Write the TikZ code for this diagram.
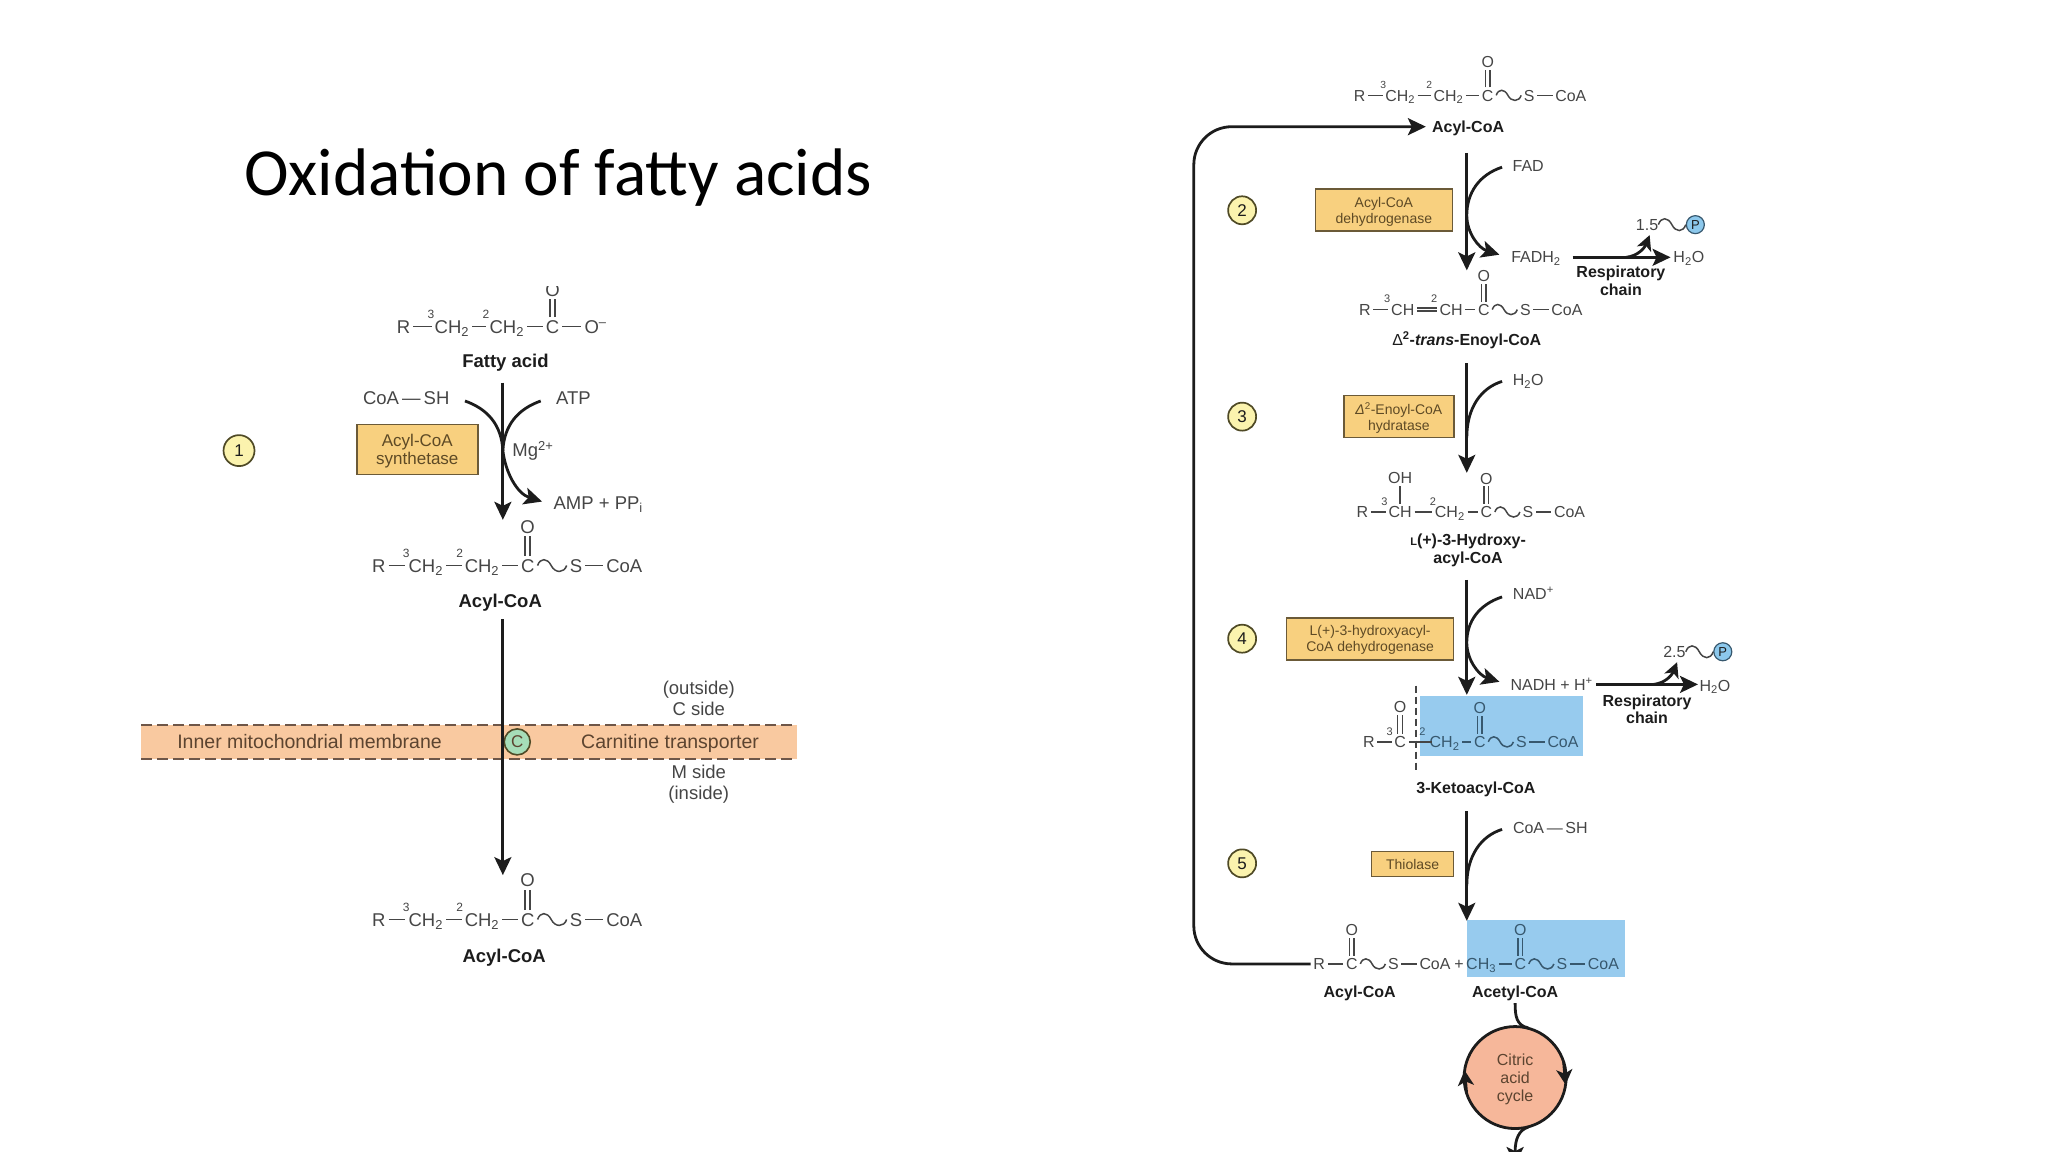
\documentclass[tikz,border=0pt]{standalone}
\usepackage{fontspec}
\setmainfont{Liberation Sans}
\newfontfamily\slidefont{Carlito}
\usetikzlibrary{arrows.meta}

\definecolor{inkc}{HTML}{1C1C1C}
\definecolor{chemc}{HTML}{454545}
\definecolor{blueinkc}{HTML}{37586E}
\definecolor{boxf}{HTML}{F8D07F}
\definecolor{boxd}{HTML}{6B5A38}
\definecolor{boxt}{HTML}{5E4A25}
\definecolor{stepf}{HTML}{FBF3AE}
\definecolor{stepd}{HTML}{4F4A26}
\definecolor{bandf}{HTML}{F9C9A0}
\definecolor{bandd}{HTML}{6E5648}
\definecolor{bandt}{HTML}{5C4430}
\definecolor{greenf}{HTML}{A6DDB8}
\definecolor{bluef}{HTML}{97CBEE}
\definecolor{pf}{HTML}{8CC8EC}
\definecolor{cyclef}{HTML}{F6B79A}

\newcommand{\wavy}[3]{\draw[bond] (#1) .. controls +(2,-6) and +(-3,-6) .. (#2) .. controls +(3,6) and +(-2,6) .. (#3);}

\tikzset{
  chem/.style={font=\fontsize{18.5}{21}\selectfont,text=chemc,inner xsep=3pt,inner ysep=2.5pt,text height=13.3pt,text depth=0pt},
  chems/.style={font=\fontsize{16}{18}\selectfont,text=chemc,inner xsep=2.6pt,inner ysep=2.2pt,text height=11.5pt,text depth=0pt},
  num/.style={font=\fontsize{12}{12}\selectfont,text=chemc,inner sep=0pt},
  nums/.style={font=\fontsize{11}{11}\selectfont,text=chemc,inner sep=0pt},
  bond/.style={draw=chemc,line width=1.5pt},
  lab/.style={font=\bfseries\fontsize{18.5}{21}\selectfont,text=inkc,align=center,inner sep=0pt,text depth=0pt},
  labs/.style={font=\bfseries\fontsize{16}{17.5}\selectfont,text=inkc,align=center,inner sep=0pt,text depth=0pt},
  txt/.style={font=\fontsize{18.5}{21}\selectfont,text=chemc,align=center,inner sep=0pt,text depth=0pt},
  txts/.style={font=\fontsize{16}{18}\selectfont,text=chemc,align=center,inner sep=0pt,text depth=0pt},
  enz/.style={draw=boxd,fill=boxf,line width=1.6pt,text=boxt,align=center,inner sep=0pt,text depth=0pt,font=\fontsize{14}{16}\selectfont},
  stepno/.style={circle,draw=stepd,fill=stepf,line width=1.7pt,text=inkc,inner sep=0pt,minimum size=28pt,font=\fontsize{17}{17}\selectfont},
  pho/.style={circle,draw=blueinkc,fill=pf,line width=1.2pt,text=inkc,inner sep=0pt,minimum size=18pt,font=\fontsize{13}{13}\selectfont},
  band/.style={text=bandt,inner sep=0pt,font=\fontsize{19.5}{21}\selectfont,text depth=0pt},
  flow/.style={draw=inkc,line width=2.8pt},
  thio/.pic={
    \node[chem] (-c) at (0,0) {C};
    \node[chem] (-o) at (0,-30) {O};
    \node[chem] (-s) at (37,0) {S};
    \node[chem] (-coa) at (74,0) {CoA};
    \coordinate (-m) at (18,0);
    \draw[bond] ([xshift=-2.5pt]-c.north) -- ([xshift=-2.5pt]-o.south);
    \draw[bond] ([xshift=2.5pt]-c.north) -- ([xshift=2.5pt]-o.south);
    \wavy{-c.east}{-m}{-s.west}
    \draw[bond] (-s) -- (-coa);
  },
  acyl/.pic={
    \pic (-t) at (0,0) {thio};
    \node[chem] (-r) at (-114,0) {R};
    \node[chem] (-ca) at (-78,0) {CH\textsubscript{2}};
    \node[chem] (-cb) at (-35,0) {CH\textsubscript{2}};
    \node[num] (-n3) at (-93,-9) {3};
    \node[num] (-n2) at (-52,-9) {2};
    \draw[bond] (-r) -- (-ca);
    \draw[bond] (-ca) -- (-cb);
    \draw[bond] (-cb) -- (-t-c);
  },
}

\begin{document}
\begin{tikzpicture}[x=1.3061pt,y=-1.3061pt,>={Stealth[length=18pt,width=17pt,inset=4pt]}]
\useasboundingbox (0,0) rectangle (1568,882);

% backgrounds
\fill[bandf] (108,555) rectangle (610,581);
\draw[draw=bandd,line width=2pt,dash pattern=on 11pt off 5pt] (108,555) -- (610,555);
\draw[draw=bandd,line width=2pt,dash pattern=on 11pt off 5pt] (108,581) -- (610,581);
\fill[bluef] (1087,533) rectangle (1212,579);
\fill[bluef] (1123,704) rectangle (1244,748);

\node[font=\slidefont\fontsize{67.3}{70}\selectfont,text=black,inner sep=0pt] (title) at (427.5,136) {Oxidation of fatty acids};

% left column, nodes
\begin{scope}
    \node[chem] (fr) at (309,250) {R};
    \node[chem] (fa) at (346,250) {CH\textsubscript{2}};
    \node[chem] (fb) at (388,250) {CH\textsubscript{2}};
    \node[chem] (fc) at (423,250) {C};
    \node[chem] (fo) at (423,222) {O};
    \node[chem] (fm) at (456,250) {O\textsuperscript{–}};
    \node[num] (f3) at (330,241) {3};
    \node[num] (f2) at (372,241) {2};
    \node[lab] (fatty) at (387,276) {Fatty acid};
    \node[txt] (coash) at (311,305) {CoA\,—\,SH};
    \node[txt] (atp) at (439,305) {ATP};
    \node[txt] (mg) at (408,344) {Mg\textsuperscript{2+}};
    \node[txt] (amp) at (458,385) {AMP + PP\textsubscript{i}};
    \node[enz,minimum width=121pt,minimum height=50pt,font=\fontsize{17}{18.5}\selectfont] (synth) at (319.5,344) {Acyl-CoA\\synthetase};
    \node[stepno,minimum size=31pt] (s1) at (183,345) {1};
    \pic (a1) at (404,433) {acyl};
    \node[lab] (acyl1) at (383,460) {Acyl-CoA};
    \node[band] (inner) at (237,568) {Inner mitochondrial membrane};
    \node[band] (carn) at (513,568) {Carnitine transporter};
    \node[circle,draw=stepd,fill=greenf,line width=1.6pt,text=bandt,inner sep=0pt,minimum size=26pt,font=\fontsize{17}{17}\selectfont] (car) at (396,568) {C};
    \node[txt] (cside) at (535,535) {(outside)\\C side};
    \node[txt] (mside) at (535,599) {M side\\(inside)};
    \pic (a2) at (404,704) {acyl};
    \node[lab] (acyl2) at (386,732) {Acyl-CoA};
\end{scope}
\fill[white] (410,208) rectangle (436,219);
\begin{scope}
    \draw[bond] (fr) -- (fa);
    \draw[bond] (fa) -- (fb);
    \draw[bond] (fb) -- (fc);
    \draw[bond] (fc) -- (fm);
    \draw[bond] ([xshift=-2.5pt]fc.north) -- ([xshift=-2.5pt]fo.south);
    \draw[bond] ([xshift=2.5pt]fc.north) -- ([xshift=2.5pt]fo.south);
\end{scope}

% left column, arrows
\coordinate (l1) at (385,293);
\coordinate (l2) at (385,398);
\coordinate (l3) at (385,474);
\coordinate (l4) at (385,670);
\coordinate (lm) at (385,345);
\coordinate (cs) at (356,307);
\coordinate (ts) at (414,307);
\coordinate (te) at (415,384);
\draw[flow,->] (l1) -- (l2);
\draw[flow] (cs) .. controls (373,313) and (384,325) .. (lm);
\draw[flow] (ts) .. controls (397,313) and (386,325) .. (lm);
\draw[flow,->] (lm) .. controls (387,362) and (396,378) .. (te);
\draw[flow,->] (l3) -- (l4);

% right column, nodes
\pic[scale=.86,transform shape] (a3) at (1139,73) {acyl};
\node[labs] (acyl3) at (1124,97) {Acyl-CoA};
\node[txts] (fad) at (1170,127) {FAD};
\node[txts] (fadh) at (1176,197) {FADH\textsubscript{2}};
\node[enz,minimum width=137pt,minimum height=42pt] (acd) at (1059.5,161) {Acyl-CoA\\dehydrogenase};
\node[stepno] (s2) at (951,161) {2};
\node[txts] (n15) at (1261,172) {1.5};
\node[pho] (p1) at (1298,172) {P};
\node[txts] (w1) at (1293,197) {H\textsubscript{2}O};
\node[labs] (rc1) at (1241,215) {Respiratory\\chain};

\node[chems] (er) at (1045,237) {R};
\node[chems] (ea) at (1074,237) {CH};
\node[chems] (eb) at (1111,237) {CH};
\node[nums] (e3) at (1062,229) {3};
\node[nums] (e2) at (1098,229) {2};
\pic[scale=.86,transform shape] (en) at (1136,237) {thio};
\node[labs] (enoyl) at (1123,259) {{\mdseries Δ}\textsuperscript{2}-\textit{trans}-Enoyl-CoA};

\node[txts] (w2) at (1170,291) {H\textsubscript{2}O};
\node[enz,minimum width=110pt,minimum height=42pt] (hyd) at (1071,319) {\textit{Δ}\textsuperscript{2}-Enoyl-CoA\\hydratase};
\node[stepno] (s3) at (951,319) {3};

\node[chems] (hr) at (1043,392) {R};
\node[chems] (ha) at (1072,392) {CH};
\node[chems] (hb) at (1110,392) {CH\textsubscript{2}};
\node[chems] (ho) at (1072,366) {OH};
\node[nums] (h3) at (1060,384) {3};
\node[nums] (h2) at (1097,384) {2};
\pic[scale=.86,transform shape] (hy) at (1138,392) {thio};
\node[labs] (hydroxy) at (1124,420) {{\fontsize{11}{12}\selectfont L}(+)-3-Hydroxy-\\acyl-CoA};

\node[txts] (nad) at (1174,454) {NAD\textsuperscript{+}};
\node[txts] (nadh) at (1188,524) {NADH + H\textsuperscript{+}};
\node[enz,minimum width=167pt,minimum height=42pt] (had) at (1049,489) {L(+)-3-hydroxyacyl-\\CoA dehydrogenase};
\node[stepno] (s4) at (951,489) {4};
\node[txts] (n25) at (1282,499) {2.5};
\node[pho] (p2) at (1319,499) {P};
\node[txts] (w3) at (1313,525) {H\textsubscript{2}O};
\node[labs] (rc2) at (1261,543) {Respiratory\\chain};

\node[chems] (kr) at (1048,568) {R};
\node[chems] (kc) at (1072,568) {C};
\node[chems] (ko) at (1072,541) {O};
\node[nums] (k3) at (1064,560) {3};
\node[nums,text=blueinkc] (k2) at (1089,560) {2};
\begin{scope}
    \colorlet{chemc}{blueinkc}
    \node[chems] (kb) at (1106,568) {CH\textsubscript{2}};
    \pic[scale=.86,transform shape] (kt) at (1133,568) {thio};
    \draw[bond] (kb) -- (kt-c);
\end{scope}
\node[labs] (keto) at (1130,603) {3-Ketoacyl-CoA};
\coordinate (cutt) at (1084,525);
\coordinate (cutb) at (1084,592);

\node[txts] (coash2) at (1187,634) {CoA\,—\,SH};
\node[enz,minimum width=82pt,minimum height=25pt] (thi) at (1081.5,661.5) {Thiolase};
\node[stepno] (s5) at (951,661) {5};

\node[chems] (lr) at (1010,738) {R};
\pic[scale=.86,transform shape] (ac) at (1035,738) {thio};
\node[chems] (plus) at (1117,738) {+};
\begin{scope}
    \colorlet{chemc}{blueinkc}
    \node[chems] (lch) at (1134,738) {CH\textsubscript{3}};
    \pic[scale=.86,transform shape] (ce) at (1164,738) {thio};
    \draw[bond] (lch) -- (ce-c);
\end{scope}
\node[labs] (acyl4) at (1041,759) {Acyl-CoA};
\node[labs] (acetyl) at (1160,759) {Acetyl-CoA};
\node[circle,draw=inkc,fill=cyclef,line width=2.8pt,text=bandt,inner sep=0pt,outer sep=0pt,minimum size=102pt,align=center,text depth=0pt,font=\fontsize{16}{18}\selectfont] (cycle) at (1160,825) {Citric\\acid\\cycle};

% right column, bonds
\begin{scope}
    \draw[bond] (er) -- (ea);
    \draw[bond] ([yshift=-1.5pt]ea.east) -- ([yshift=-1.5pt]eb.west);
    \draw[bond] ([yshift=1.5pt]ea.east) -- ([yshift=1.5pt]eb.west);
    \draw[bond] (eb) -- (en-c);
    \draw[bond] (hr) -- (ha);
    \draw[bond] (ha) -- (hb);
    \draw[bond] (hb) -- (hy-c);
    \draw[bond] (ha.north) -- (ho.south);
    \draw[bond] (kr) -- (kc);
    \draw[bond] (kc) -- ([xshift=5pt]kb.west);
    \draw[bond] ([xshift=-2.5pt]kc.north) -- ([xshift=-2.5pt]ko.south);
    \draw[bond] ([xshift=2.5pt]kc.north) -- ([xshift=2.5pt]ko.south);
    \draw[bond,dash pattern=on 7pt off 4pt] (cutt) -- (cutb);
    \draw[bond] (lr) -- (ac-c);
\end{scope}
\coordinate (m1) at (1280,172);
\coordinate (m2) at (1301,499);
\wavy{n15.east}{m1}{p1.west}
\wavy{n25.east}{m2}{p2.west}

% right column, arrows
\coordinate (a) at (914,97);
\coordinate (b) at (914,738);
\coordinate (t1) at (1123,117);
\coordinate (t2) at (1123,207);
\coordinate (tm) at (1123,165);
\coordinate (t3) at (1150,128);
\coordinate (t4) at (1148,195);
\coordinate (u1) at (1204,197);
\coordinate (u2) at (1279,197);
\coordinate (u3) at (1245,197);
\coordinate (u4) at (1263,180);
\coordinate (v1) at (1123,278);
\coordinate (v2) at (1123,362);
\coordinate (v3) at (1150,292);
\coordinate (v4) at (1123,335);
\coordinate (w1s) at (1123,444);
\coordinate (w2s) at (1123,532);
\coordinate (wm) at (1123,492);
\coordinate (w3s) at (1150,457);
\coordinate (w4s) at (1148,522);
\coordinate (x1) at (1222,524);
\coordinate (x2) at (1300,524);
\coordinate (x3) at (1266,524);
\coordinate (x4) at (1284,507);
\coordinate (y1) at (1123,621);
\coordinate (y2) at (1123,705);
\coordinate (y3) at (1150,635);
\coordinate (y4) at (1123,678);
\coordinate (z1) at (1160,768);
\coordinate (z2) at (1170,787);
\coordinate (z3) at (1170,863);
\coordinate (z4) at (1160,892);

\draw[flow,->,rounded corners=38pt] (lr.west) -- (b) -- (a) -- ([xshift=-6pt]acyl3.west);
\draw[flow,->] (t1) -- (t2);
\draw[flow] (t3) .. controls (1132,134) and (1123,148) .. (tm);
\draw[flow,->] (tm) .. controls (1123,178) and (1132,190) .. (t4);
\draw[flow,->] (u1) -- (u2);
\draw[flow,->,>={Stealth[length=15pt,width=15pt,inset=4pt]}] (u3) .. controls (1254,196) and (1259,190) .. (u4);
\draw[flow,->] (v1) -- (v2);
\draw[flow] (v3) .. controls (1134,297) and (1123,312) .. (v4);
\draw[flow,->] (w1s) -- (w2s);
\draw[flow] (w3s) .. controls (1132,463) and (1123,476) .. (wm);
\draw[flow,->] (wm) .. controls (1123,505) and (1132,517) .. (w4s);
\draw[flow,->] (x1) -- (x2);
\draw[flow,->,>={Stealth[length=15pt,width=15pt,inset=4pt]}] (x3) .. controls (1275,523) and (1280,517) .. (x4);
\draw[flow,->] (y1) -- (y2);
\draw[flow] (y3) .. controls (1134,640) and (1123,655) .. (y4);
\draw[flow] (z1) .. controls (1160,778) and (1161,785) .. (z2);
\draw[flow,->] (z3) .. controls (1163,865) and (1160,872) .. (z4);
\draw[flow,->,>={Stealth[length=15pt,width=16pt,inset=4pt]}] (cycle.198) -- (cycle.172);
\draw[flow,->,>={Stealth[length=15pt,width=16pt,inset=4pt]}] (cycle.18) -- (cycle.-8);
\end{tikzpicture}
\end{document}
